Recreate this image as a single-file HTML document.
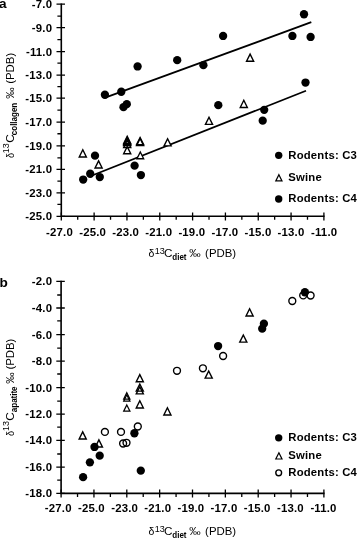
<!DOCTYPE html>
<html><head><meta charset="utf-8"><title>Figure</title>
<style>
html,body{margin:0;padding:0;background:#fff}
svg{display:block}
text{font-family:"Liberation Sans",Arial,Helvetica,sans-serif;fill:#000}
.b{font-weight:bold}
.tk{font-weight:bold;font-size:11.4px;letter-spacing:0.18px}
.lg{font-weight:bold;font-size:11.3px;letter-spacing:0.2px}
.t{font-size:11.4px}
.sp{font-size:9px}
.sb{font-size:9px;font-weight:bold}
.ax{stroke:#000;stroke-width:1.6;fill:none}
.mt{stroke:#000;stroke-width:1.3;fill:none}
.ln{stroke:#000;stroke-width:1.8;fill:none;stroke-linecap:butt}
.fc{fill:#000;stroke:none}
.oc{fill:none;stroke:#000;stroke-width:1.4}
.tw{fill:#fff;stroke:none}
.ts{fill:none;stroke:#000;stroke-width:1.4;stroke-linejoin:miter}
</style></head><body>
<svg width="357" height="538" viewBox="0 0 357 538">
<rect width="357" height="538" fill="#fff"/>
<text class="b" x="-1.1" y="7.7" font-size="13.6">a</text>
<path class="ax" d="M61.3,3.55 V216.3 H324.55"/>
<path class="mt" d="M56.5,4.2 h8.5 M57.4,16.1 h3.9 M56.5,27.6 h8.5 M57.4,39.7 h3.9 M56.5,51.7 h8.5 M57.4,63.2 h3.9 M56.5,75.1 h8.5 M57.4,86.7 h3.9 M56.5,98.2 h8.5 M57.4,110.15 h3.9 M56.5,122.2 h8.5 M57.4,133.75 h3.9 M56.5,145.8 h8.5 M57.4,157.9 h3.9 M56.5,169.35 h8.5 M57.4,181.2 h3.9 M56.5,192.8 h8.5 M57.4,204.3 h3.9 M56.5,216.3 h8.5 M61.3,212.5 v8 M77.71,216.3 v3.5 M94.12,212.5 v8 M110.54,216.3 v3.5 M126.95,212.5 v8 M143.36,216.3 v3.5 M159.77,212.5 v8 M176.19,216.3 v3.5 M192.6,212.5 v8 M209.01,216.3 v3.5 M225.42,212.5 v8 M241.84,216.3 v3.5 M258.25,212.5 v8 M274.66,216.3 v3.5 M291.07,212.5 v8 M307.49,216.3 v3.5 M323.9,212.5 v8"/>
<text class="tk" x="52.2" y="8.2" text-anchor="end"><tspan dy="-0.7">-</tspan><tspan dy="0.7">7.0</tspan></text>
<text class="tk" x="52.2" y="31.6" text-anchor="end"><tspan dy="-0.7">-</tspan><tspan dy="0.7">9.0</tspan></text>
<text class="tk" x="52.2" y="55.7" text-anchor="end"><tspan dy="-0.7">-</tspan><tspan dy="0.7">11.0</tspan></text>
<text class="tk" x="52.2" y="79.1" text-anchor="end"><tspan dy="-0.7">-</tspan><tspan dy="0.7">13.0</tspan></text>
<text class="tk" x="52.2" y="102.2" text-anchor="end"><tspan dy="-0.7">-</tspan><tspan dy="0.7">15.0</tspan></text>
<text class="tk" x="52.2" y="126.2" text-anchor="end"><tspan dy="-0.7">-</tspan><tspan dy="0.7">17.0</tspan></text>
<text class="tk" x="52.2" y="149.8" text-anchor="end"><tspan dy="-0.7">-</tspan><tspan dy="0.7">19.0</tspan></text>
<text class="tk" x="52.2" y="173.35" text-anchor="end"><tspan dy="-0.7">-</tspan><tspan dy="0.7">21.0</tspan></text>
<text class="tk" x="52.2" y="196.8" text-anchor="end"><tspan dy="-0.7">-</tspan><tspan dy="0.7">23.0</tspan></text>
<text class="tk" x="52.2" y="220.3" text-anchor="end"><tspan dy="-0.7">-</tspan><tspan dy="0.7">25.0</tspan></text>
<text class="tk" x="59.5" y="236.4" text-anchor="middle"><tspan dy="-0.7">-</tspan><tspan dy="0.7">27.0</tspan></text>
<text class="tk" x="92.58" y="236.4" text-anchor="middle"><tspan dy="-0.7">-</tspan><tspan dy="0.7">25.0</tspan></text>
<text class="tk" x="125.66" y="236.4" text-anchor="middle"><tspan dy="-0.7">-</tspan><tspan dy="0.7">23.0</tspan></text>
<text class="tk" x="158.74" y="236.4" text-anchor="middle"><tspan dy="-0.7">-</tspan><tspan dy="0.7">21.0</tspan></text>
<text class="tk" x="191.82" y="236.4" text-anchor="middle"><tspan dy="-0.7">-</tspan><tspan dy="0.7">19.0</tspan></text>
<text class="tk" x="224.9" y="236.4" text-anchor="middle"><tspan dy="-0.7">-</tspan><tspan dy="0.7">17.0</tspan></text>
<text class="tk" x="257.98" y="236.4" text-anchor="middle"><tspan dy="-0.7">-</tspan><tspan dy="0.7">15.0</tspan></text>
<text class="tk" x="291.06" y="236.4" text-anchor="middle"><tspan dy="-0.7">-</tspan><tspan dy="0.7">13.0</tspan></text>
<text class="tk" x="324.14" y="236.4" text-anchor="middle"><tspan dy="-0.7">-</tspan><tspan dy="0.7">11.0</tspan></text>
<g transform="translate(14.1,157.8) rotate(-90)"><text class="t" transform="translate(-0.3,0) scale(0.8,1)">δ</text><text class="sp" x="4.5" y="-5">13</text><text class="t" x="15.1" y="0" style="font-size:11.7px">C</text><text class="sb" transform="translate(22.6,2.5) scale(0.89,1)">collagen</text><text class="t" x="59" y="0">‰</text><text class="t" x="74" y="0">(PDB)</text></g>
<g transform="translate(148.8,257.1)"><text class="t" transform="translate(-0.3,0) scale(0.92,1)">δ</text><text class="sp" x="6" y="-3.1">13</text><text class="t" x="15.3" y="0" style="font-size:11.7px">C</text><text class="sb" transform="translate(23.5,2.8) scale(0.89,1)">diet</text><text class="t" x="40.5" y="0">‰</text><text class="t" x="56.3" y="0">(PDB)</text></g>
<path class="ln" d="M104.5,97.9 L311.3,22.21"/>
<path class="ln" d="M90.2,176.22 L306,90.76"/>
<path class="tw" transform="translate(250.1,57.7)" d="M0,-3.6 L3.55,3.55 L-3.55,3.55 Z"/><path class="tw" transform="translate(209,120.8)" d="M0,-3.6 L3.55,3.55 L-3.55,3.55 Z"/><path class="tw" transform="translate(167.6,142.3)" d="M0,-3.6 L3.55,3.55 L-3.55,3.55 Z"/><path class="tw" transform="translate(243.8,103.9)" d="M0,-3.6 L3.55,3.55 L-3.55,3.55 Z"/><path class="tw" transform="translate(82.8,153.4)" d="M0,-3.6 L3.55,3.55 L-3.55,3.55 Z"/><path class="tw" transform="translate(98.6,164.5)" d="M0,-3.6 L3.55,3.55 L-3.55,3.55 Z"/><path class="tw" transform="translate(140.3,155.4) scale(0.95)" d="M0,-3.6 L3.55,3.55 L-3.55,3.55 Z"/><path class="tw" transform="translate(140.1,141.1)" d="M0,-3.6 L3.55,3.55 L-3.55,3.55 Z"/><path class="tw" transform="translate(140.1,142.1)" d="M0,-3.6 L3.55,3.55 L-3.55,3.55 Z"/><path class="tw" transform="translate(127.2,139.9)" d="M0,-3.6 L3.55,3.55 L-3.55,3.55 Z"/><path class="tw" transform="translate(127.2,140.9)" d="M0,-3.6 L3.55,3.55 L-3.55,3.55 Z"/><path class="tw" transform="translate(127.2,141.9)" d="M0,-3.6 L3.55,3.55 L-3.55,3.55 Z"/><path class="tw" transform="translate(127.2,143.9)" d="M0,-3.6 L3.55,3.55 L-3.55,3.55 Z"/><path class="tw" transform="translate(127.2,150.2)" d="M0,-3.6 L3.55,3.55 L-3.55,3.55 Z"/>
<path class="ts" transform="translate(250.1,57.7)" d="M0,-3.6 L3.55,3.55 L-3.55,3.55 Z"/><path class="ts" transform="translate(209,120.8)" d="M0,-3.6 L3.55,3.55 L-3.55,3.55 Z"/><path class="ts" transform="translate(167.6,142.3)" d="M0,-3.6 L3.55,3.55 L-3.55,3.55 Z"/><path class="ts" transform="translate(243.8,103.9)" d="M0,-3.6 L3.55,3.55 L-3.55,3.55 Z"/><path class="ts" transform="translate(82.8,153.4)" d="M0,-3.6 L3.55,3.55 L-3.55,3.55 Z"/><path class="ts" transform="translate(98.6,164.5)" d="M0,-3.6 L3.55,3.55 L-3.55,3.55 Z"/><path class="ts" transform="translate(140.3,155.4) scale(0.95)" d="M0,-3.6 L3.55,3.55 L-3.55,3.55 Z"/><path class="ts" transform="translate(140.1,141.1)" d="M0,-3.6 L3.55,3.55 L-3.55,3.55 Z"/><path class="ts" transform="translate(140.1,142.1)" d="M0,-3.6 L3.55,3.55 L-3.55,3.55 Z"/><path class="ts" transform="translate(127.2,139.9)" d="M0,-3.6 L3.55,3.55 L-3.55,3.55 Z"/><path class="ts" transform="translate(127.2,140.9)" d="M0,-3.6 L3.55,3.55 L-3.55,3.55 Z"/><path class="ts" transform="translate(127.2,141.9)" d="M0,-3.6 L3.55,3.55 L-3.55,3.55 Z"/><path class="ts" transform="translate(127.2,143.9)" d="M0,-3.6 L3.55,3.55 L-3.55,3.55 Z"/><path class="ts" transform="translate(127.2,150.2)" d="M0,-3.6 L3.55,3.55 L-3.55,3.55 Z"/>
<circle class="fc" cx="104.9" cy="94.75" r="4.15"/><circle class="fc" cx="121.3" cy="91.75" r="4.15"/><circle class="fc" cx="126.8" cy="104.15" r="4.15"/><circle class="fc" cx="123.5" cy="107.15" r="4.15"/><circle class="fc" cx="137.6" cy="66.45" r="4.15"/><circle class="fc" cx="177.2" cy="60.15" r="4.15"/><circle class="fc" cx="203.4" cy="65.15" r="4.15"/><circle class="fc" cx="223.1" cy="35.95" r="4.15"/><circle class="fc" cx="304" cy="14.25" r="4.15"/><circle class="fc" cx="292.4" cy="35.95" r="4.15"/><circle class="fc" cx="310.6" cy="36.95" r="4.15"/><circle class="fc" cx="305.5" cy="82.55" r="4.15"/><circle class="fc" cx="218.3" cy="105.15" r="4.15"/><circle class="fc" cx="264.2" cy="109.85" r="4.15"/><circle class="fc" cx="262.7" cy="120.65" r="4.15"/><circle class="fc" cx="95" cy="155.65" r="4.15"/><circle class="fc" cx="90.2" cy="173.75" r="4.15"/><circle class="fc" cx="83.2" cy="179.55" r="4.15"/><circle class="fc" cx="99.8" cy="177.05" r="4.15"/><circle class="fc" cx="134.6" cy="165.65" r="4.15"/><circle class="fc" cx="140.9" cy="175.05" r="4.15"/>
<circle class="fc" cx="278.7" cy="155.35" r="3.7"/>
<text class="lg" x="288.3" y="158.8">Rodents: C3</text>
<path class="ts" style="fill:#fff" transform="translate(278.9,177.8) scale(0.87)" d="M0,-3.6 L3.55,3.55 L-3.55,3.55 Z"/>
<text class="lg" x="288.3" y="180.9">Swine</text>
<circle class="fc" cx="278.7" cy="199.05" r="3.7"/>
<text class="lg" x="288.3" y="202.4">Rodents: C4</text>
<text class="b" x="-0.5" y="286.9" font-size="13.6">b</text>
<path class="ax" d="M61.1,280.75 V493.4 H324.55"/>
<path class="mt" d="M56.3,281.4 h8.5 M57.2,295 h3.9 M56.3,308 h8.5 M57.2,320.9 h3.9 M56.3,334.6 h8.5 M57.2,348.1 h3.9 M56.3,361.1 h8.5 M57.2,374 h3.9 M56.3,387.6 h8.5 M57.2,401.1 h3.9 M56.3,414.1 h8.5 M57.2,427.1 h3.9 M56.3,440.4 h8.5 M57.2,454 h3.9 M56.3,467.05 h8.5 M57.2,480.1 h3.9 M56.3,493.4 h8.5 M61.1,489.6 v8 M77.53,493.4 v3.5 M93.95,489.6 v8 M110.37,493.4 v3.5 M126.8,489.6 v8 M143.22,493.4 v3.5 M159.65,489.6 v8 M176.07,493.4 v3.5 M192.5,489.6 v8 M208.92,493.4 v3.5 M225.35,489.6 v8 M241.77,493.4 v3.5 M258.2,489.6 v8 M274.62,493.4 v3.5 M291.05,489.6 v8 M307.47,493.4 v3.5 M323.9,489.6 v8"/>
<text class="tk" x="52.2" y="285.4" text-anchor="end"><tspan dy="-0.7">-</tspan><tspan dy="0.7">2.0</tspan></text>
<text class="tk" x="52.2" y="312" text-anchor="end"><tspan dy="-0.7">-</tspan><tspan dy="0.7">4.0</tspan></text>
<text class="tk" x="52.2" y="338.6" text-anchor="end"><tspan dy="-0.7">-</tspan><tspan dy="0.7">6.0</tspan></text>
<text class="tk" x="52.2" y="365.1" text-anchor="end"><tspan dy="-0.7">-</tspan><tspan dy="0.7">8.0</tspan></text>
<text class="tk" x="52.2" y="391.6" text-anchor="end"><tspan dy="-0.7">-</tspan><tspan dy="0.7">10.0</tspan></text>
<text class="tk" x="52.2" y="418.1" text-anchor="end"><tspan dy="-0.7">-</tspan><tspan dy="0.7">12.0</tspan></text>
<text class="tk" x="52.2" y="444.4" text-anchor="end"><tspan dy="-0.7">-</tspan><tspan dy="0.7">14.0</tspan></text>
<text class="tk" x="52.2" y="471.05" text-anchor="end"><tspan dy="-0.7">-</tspan><tspan dy="0.7">16.0</tspan></text>
<text class="tk" x="52.2" y="497.4" text-anchor="end"><tspan dy="-0.7">-</tspan><tspan dy="0.7">18.0</tspan></text>
<text class="tk" x="58.3" y="512.1" text-anchor="middle"><tspan dy="-0.7">-</tspan><tspan dy="0.7">27.0</tspan></text>
<text class="tk" x="91.45" y="512.1" text-anchor="middle"><tspan dy="-0.7">-</tspan><tspan dy="0.7">25.0</tspan></text>
<text class="tk" x="124.6" y="512.1" text-anchor="middle"><tspan dy="-0.7">-</tspan><tspan dy="0.7">23.0</tspan></text>
<text class="tk" x="157.75" y="512.1" text-anchor="middle"><tspan dy="-0.7">-</tspan><tspan dy="0.7">21.0</tspan></text>
<text class="tk" x="190.9" y="512.1" text-anchor="middle"><tspan dy="-0.7">-</tspan><tspan dy="0.7">19.0</tspan></text>
<text class="tk" x="224.05" y="512.1" text-anchor="middle"><tspan dy="-0.7">-</tspan><tspan dy="0.7">17.0</tspan></text>
<text class="tk" x="257.2" y="512.1" text-anchor="middle"><tspan dy="-0.7">-</tspan><tspan dy="0.7">15.0</tspan></text>
<text class="tk" x="290.35" y="512.1" text-anchor="middle"><tspan dy="-0.7">-</tspan><tspan dy="0.7">13.0</tspan></text>
<text class="tk" x="323.5" y="512.1" text-anchor="middle"><tspan dy="-0.7">-</tspan><tspan dy="0.7">11.0</tspan></text>
<g transform="translate(14.1,435.8) rotate(-90)"><text class="t" transform="translate(-0.3,0) scale(0.8,1)">δ</text><text class="sp" x="4.8" y="-5">13</text><text class="t" x="15" y="0" style="font-size:11.7px">C</text><text class="sb" transform="translate(23.6,2.5) scale(0.89,1)">apatite</text><text class="t" x="52" y="0">‰</text><text class="t" x="66.2" y="0">(PDB)</text></g>
<g transform="translate(148.8,534.9)"><text class="t" transform="translate(-0.3,0) scale(0.92,1)">δ</text><text class="sp" x="6" y="-3.1">13</text><text class="t" x="15.3" y="0" style="font-size:11.7px">C</text><text class="sb" transform="translate(23.5,2.8) scale(0.89,1)">diet</text><text class="t" x="40.5" y="0">‰</text><text class="t" x="56.3" y="0">(PDB)</text></g>
<path class="tw" transform="translate(82.7,435.5)" d="M0,-3.6 L3.55,3.55 L-3.55,3.55 Z"/><path class="tw" transform="translate(98.9,443.5)" d="M0,-3.6 L3.55,3.55 L-3.55,3.55 Z"/><path class="tw" transform="translate(249.6,312.4)" d="M0,-3.6 L3.55,3.55 L-3.55,3.55 Z"/><path class="tw" transform="translate(243.3,338.6)" d="M0,-3.6 L3.55,3.55 L-3.55,3.55 Z"/><path class="tw" transform="translate(208.7,374.6)" d="M0,-3.6 L3.55,3.55 L-3.55,3.55 Z"/><path class="tw" transform="translate(167.4,411.4)" d="M0,-3.6 L3.55,3.55 L-3.55,3.55 Z"/><path class="tw" transform="translate(139.8,378.2)" d="M0,-3.6 L3.55,3.55 L-3.55,3.55 Z"/><path class="tw" transform="translate(139.8,387.6)" d="M0,-3.6 L3.55,3.55 L-3.55,3.55 Z"/><path class="tw" transform="translate(139.8,390.3)" d="M0,-3.6 L3.55,3.55 L-3.55,3.55 Z"/><path class="tw" transform="translate(139.8,404.4)" d="M0,-3.6 L3.55,3.55 L-3.55,3.55 Z"/><path class="tw" transform="translate(126.8,395.9) scale(0.88)" d="M0,-3.6 L3.55,3.55 L-3.55,3.55 Z"/><path class="tw" transform="translate(126.8,398) scale(0.88)" d="M0,-3.6 L3.55,3.55 L-3.55,3.55 Z"/><path class="tw" transform="translate(126.8,408.1) scale(0.88)" d="M0,-3.6 L3.55,3.55 L-3.55,3.55 Z"/>
<path class="ts" transform="translate(82.7,435.5)" d="M0,-3.6 L3.55,3.55 L-3.55,3.55 Z"/><path class="ts" transform="translate(98.9,443.5)" d="M0,-3.6 L3.55,3.55 L-3.55,3.55 Z"/><path class="ts" transform="translate(249.6,312.4)" d="M0,-3.6 L3.55,3.55 L-3.55,3.55 Z"/><path class="ts" transform="translate(243.3,338.6)" d="M0,-3.6 L3.55,3.55 L-3.55,3.55 Z"/><path class="ts" transform="translate(208.7,374.6)" d="M0,-3.6 L3.55,3.55 L-3.55,3.55 Z"/><path class="ts" transform="translate(167.4,411.4)" d="M0,-3.6 L3.55,3.55 L-3.55,3.55 Z"/><path class="ts" transform="translate(139.8,378.2)" d="M0,-3.6 L3.55,3.55 L-3.55,3.55 Z"/><path class="ts" transform="translate(139.8,387.6)" d="M0,-3.6 L3.55,3.55 L-3.55,3.55 Z"/><path class="ts" transform="translate(139.8,390.3)" d="M0,-3.6 L3.55,3.55 L-3.55,3.55 Z"/><path class="ts" transform="translate(139.8,404.4)" d="M0,-3.6 L3.55,3.55 L-3.55,3.55 Z"/><path class="ts" transform="translate(126.8,395.9) scale(0.88)" d="M0,-3.6 L3.55,3.55 L-3.55,3.55 Z"/><path class="ts" transform="translate(126.8,398) scale(0.88)" d="M0,-3.6 L3.55,3.55 L-3.55,3.55 Z"/><path class="ts" transform="translate(126.8,408.1) scale(0.88)" d="M0,-3.6 L3.55,3.55 L-3.55,3.55 Z"/>
<circle class="tw" cx="104.9" cy="431.9" r="3.45"/><circle class="tw" cx="121" cy="431.9" r="3.45"/><circle class="tw" cx="137.8" cy="426.5" r="3.45"/><circle class="tw" cx="123.1" cy="443.5" r="3.45"/><circle class="tw" cx="126.5" cy="442.8" r="3.45"/><circle class="tw" cx="303.2" cy="295.4" r="3.45"/><circle class="tw" cx="310.6" cy="295.5" r="3.45"/><circle class="tw" cx="292.3" cy="301" r="3.45"/><circle class="tw" cx="223.1" cy="356" r="3.45"/><circle class="tw" cx="202.9" cy="368.3" r="3.45"/><circle class="tw" cx="177" cy="370.8" r="3.45"/>
<circle class="oc" cx="104.9" cy="431.9" r="3.45"/><circle class="oc" cx="121" cy="431.9" r="3.45"/><circle class="oc" cx="137.8" cy="426.5" r="3.45"/><circle class="oc" cx="123.1" cy="443.5" r="3.45"/><circle class="oc" cx="126.5" cy="442.8" r="3.45"/><circle class="oc" cx="303.2" cy="295.4" r="3.45"/><circle class="oc" cx="310.6" cy="295.5" r="3.45"/><circle class="oc" cx="292.3" cy="301" r="3.45"/><circle class="oc" cx="223.1" cy="356" r="3.45"/><circle class="oc" cx="202.9" cy="368.3" r="3.45"/><circle class="oc" cx="177" cy="370.8" r="3.45"/>
<circle class="fc" cx="134.4" cy="433.25" r="4.15"/><circle class="fc" cx="94.5" cy="446.95" r="4.15"/><circle class="fc" cx="99.7" cy="455.65" r="4.15"/><circle class="fc" cx="89.9" cy="462.35" r="4.15"/><circle class="fc" cx="83.1" cy="477.15" r="4.15"/><circle class="fc" cx="140.8" cy="470.65" r="4.15"/><circle class="fc" cx="304.9" cy="292.25" r="4.15"/><circle class="fc" cx="263.9" cy="323.65" r="4.15"/><circle class="fc" cx="262.2" cy="328.65" r="4.15"/><circle class="fc" cx="218.1" cy="346.05" r="4.15"/>
<circle class="fc" cx="278.7" cy="437.85" r="3.7"/>
<text class="lg" x="288.3" y="441.1">Rodents: C3</text>
<path class="ts" style="fill:#fff" transform="translate(278.9,455.9) scale(0.87)" d="M0,-3.6 L3.55,3.55 L-3.55,3.55 Z"/>
<text class="lg" x="288.3" y="458.8">Swine</text>
<circle class="tw" cx="278.7" cy="472.8" r="2.9"/>
<circle class="oc" cx="278.7" cy="472.8" r="2.9"/>
<text class="lg" x="288.3" y="475.9">Rodents: C4</text>
</svg>
</body></html>
